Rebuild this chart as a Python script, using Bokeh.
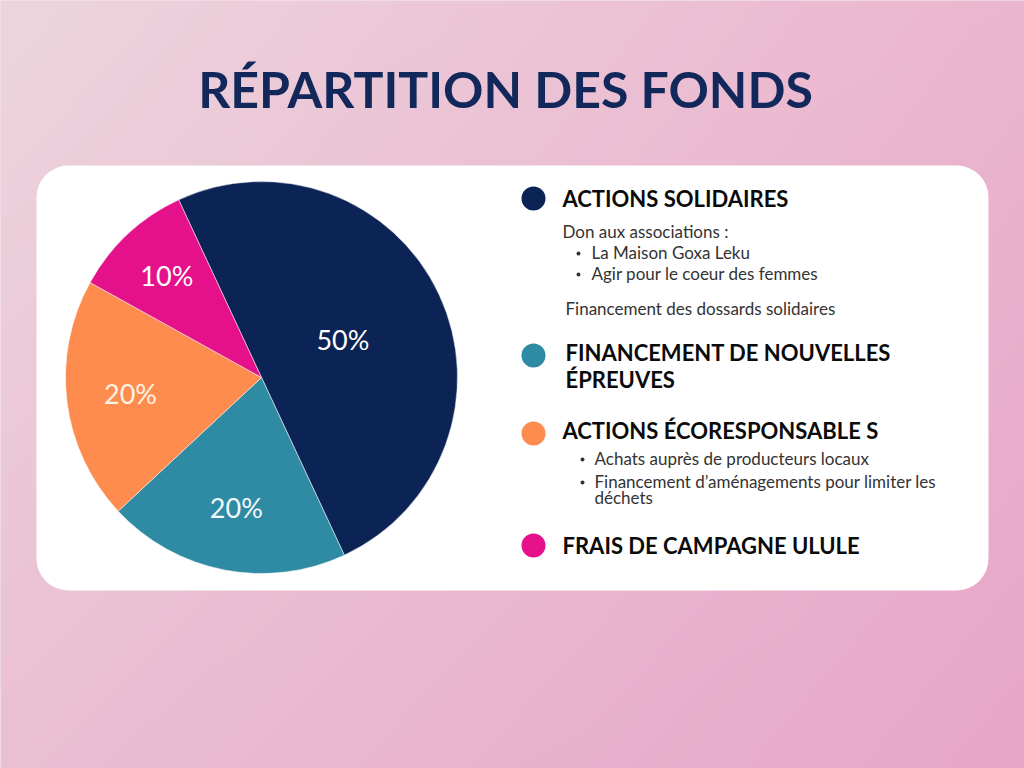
import numpy as np
from bokeh.plotting import figure
from bokeh.models import Range1d, BoxAnnotation, ColumnDataSource
from bokeh.core.properties import value
from bokeh.embed import file_html
from bokeh.resources import INLINE

# ---------------- data ----------------
title = "RÉPARTITION DES FONDS"
categories = ["ACTIONS SOLIDAIRES", "FINANCEMENT DE NOUVELLES ÉPREUVES",
              "ACTIONS ÉCORESPONSABLE S", "FRAIS DE CAMPAGNE ULULE"]
heading_lines = [["ACTIONS SOLIDAIRES"],
                 ["FINANCEMENT DE NOUVELLES", "ÉPREUVES"],
                 ["ACTIONS ÉCORESPONSABLE S"],
                 ["FRAIS DE CAMPAGNE ULULE"]]
shares = [50, 20, 20, 10]
colors = ["#0c2356", "#2e8ba3", "#fd8c4e", "#e5118a"]
label_colors = ["#ffffff", "#f4f9fa", "#fff3e6", "#ffffff"]
solidaires_intro = "Don aux associations :"
solidaires_bullets = ["La Maison Goxa Leku", "Agir pour le coeur des femmes"]
solidaires_extra = "Financement des dossards solidaires"
eco_bullets = [["Achats auprès de producteurs locaux"],
               ["Financement d’aménagements pour limiter les", "déchets"]]

W, H = 1024, 768
def Y(ys):  # screen y -> data y
    return H - ys

p = figure(width=W, height=H, output_backend="svg", toolbar_location=None,
           x_range=Range1d(0, W), y_range=Range1d(0, H), min_border=0)
p.axis.visible = False
p.grid.visible = False
p.outline_line_color = None
p.background_fill_color = "#eac4d4"
p.border_fill_color = "#eac4d4"

# background gradient
gw, gh = 256, 192
u = np.linspace(0, 1, gw)[None, :]
v = np.linspace(0, 1, gh)[:, None]  # v=0 bottom
tl = np.array([237, 213, 221]); tr = np.array([235, 182, 207])
bl = np.array([234, 192, 211]); br = np.array([232, 166, 200])
img = np.zeros((gh, gw), dtype=np.uint32)
view = img.view(dtype=np.uint8).reshape((gh, gw, 4))
for k in range(3):
    top = tl[k] * (1 - u) + tr[k] * u
    bot = bl[k] * (1 - u) + br[k] * u
    view[:, :, k] = (bot * (1 - v) + top * v).astype(np.uint8)
view[:, :, 3] = 255
p.image_rgba(image=[img], x=0, y=0, dw=W, dh=H, level="image")

# white rounded panel
p.add_layout(BoxAnnotation(left=36, right=988, bottom=Y(590), top=Y(165),
                           fill_color="white", fill_alpha=1, line_alpha=0,
                           border_radius=32, level="underlay"))

# title
p.text(x=[505], y=[Y(88)], text=[title], text_align="center",
       text_baseline="middle", text_font=value("Lato"), text_font_style="bold",
       text_font_size="50px", text_color="#13285a")

# pie
cx, cy, R = 261, Y(377), 196
start_deg = 115.0
fr = np.array(shares) / sum(shares)
ends = start_deg - np.cumsum(fr) * 360
starts = np.concatenate([[start_deg], ends[:-1]])
src = ColumnDataSource(dict(start=np.radians(starts), end=np.radians(ends), color=colors))
p.wedge(x=cx, y=cy, radius=R, start_angle="start", end_angle="end", direction="clock",
        fill_color="color", line_color="white", line_width=0.5, source=src)

mid = np.radians((starts + ends) / 2)
half = np.radians(fr * 360) / 2
rc = 2 * R * np.sin(half) / (3 * half) * 1.08
lx = cx + rc * np.cos(mid)
ly = cy + rc * np.sin(mid)
p.text(x=lx, y=ly, text=[f"{s}%" for s in shares], text_align="center",
       text_baseline="middle", text_font=value("Lato"), text_font_size="27px",
       text_color=label_colors)

# legend dots and headings
dot_y = [198, 355, 433, 545]
head_y = [198, 352, 430, 545]
head_x = [562, 565, 562, 562]
p.scatter(x=[533] * 4, y=[Y(y) for y in dot_y], size=24, color=colors, line_color=None)
hx, hy, ht = [], [], []
for i, lines in enumerate(heading_lines):
    for j, t in enumerate(lines):
        hx.append(head_x[i]); hy.append(Y(head_y[i] + j * 27)); ht.append(t)
p.text(x=hx, y=hy, text=ht, text_align="left", text_baseline="middle",
       text_font=value("Lato"), text_font_style="bold", text_font_size="22px",
       text_color="#0b0b0b")

# body text
bx, by, bt = [562], [Y(231)], [solidaires_intro]
dots_x, dots_y = [], []
for j, t in enumerate(solidaires_bullets):
    bx.append(591); by.append(Y(252 + j * 21)); bt.append(t)
    dots_x.append(578); dots_y.append(Y(253 + j * 21))
bx.append(565); by.append(Y(308)); bt.append(solidaires_extra)
yy = 458
for lines in eco_bullets:
    dots_x.append(582); dots_y.append(Y(yy + 1))
    for j, t in enumerate(lines):
        bx.append(594); by.append(Y(yy + j * 16)); bt.append(t)
    yy += 23
p.text(x=bx, y=by, text=bt, text_align="left", text_baseline="middle",
       text_font=value("Lato"), text_font_size="17px", text_color="#333333")
p.scatter(x=dots_x, y=dots_y, size=4, color="#333333", line_color=None)

open("out.html", "w").write(file_html(p, INLINE))
